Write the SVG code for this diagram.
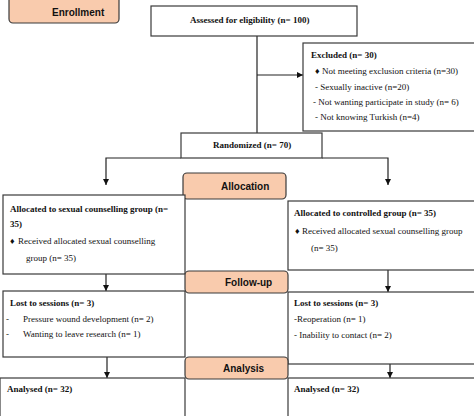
<svg xmlns="http://www.w3.org/2000/svg" width="474" height="416" viewBox="0 0 474 416">
<defs>
<style>
.box{fill:#fff;stroke:#3a3a3a;stroke-width:1.2}
.stage{fill:#F9CBAD;stroke:#3a3a3a;stroke-width:1.2}
.st{font-family:"Liberation Sans",Arial,sans-serif;font-weight:bold;font-size:10px;fill:#111}
.t{font-family:"Liberation Serif","Times New Roman",serif;font-size:9px;fill:#111}
.b{font-weight:bold}
.ln{fill:none;stroke:#222;stroke-width:1.2}
</style>
<marker id="ah" viewBox="0 0 6 6" refX="6" refY="3" markerWidth="6" markerHeight="6" markerUnits="userSpaceOnUse" orient="auto">
<path d="M0,0 L6,3 L0,6 z" fill="#111"/>
</marker>
</defs>
<rect width="474" height="416" fill="#fff"/>

<g id="connectors">
<path class="ln" d="M257,36 V133"/>
<path class="ln" d="M257,75 H303" marker-end="url(#ah)"/>
<path class="ln" d="M181,158 H106 V185" marker-end="url(#ah)"/>
<path class="ln" d="M322,158 H388 V185" marker-end="url(#ah)"/>
<path class="ln" d="M106,255 V291" marker-end="url(#ah)"/>
<path class="ln" d="M388,256 V292" marker-end="url(#ah)"/>
<path class="ln" d="M107,343 V378" marker-end="url(#ah)"/>
<path class="ln" d="M390,344 V378" marker-end="url(#ah)"/>
</g>

<g id="enrollment">
<rect class="stage" x="9" y="-4" width="110" height="27" rx="4"/>
<text class="st" x="52" y="15.5">Enrollment</text>
</g>

<g id="assessed">
<rect class="box" x="151" y="6" width="206" height="30"/>
<text class="t b" x="190" y="23">Assessed for eligibility (n= 100)</text>
</g>

<g id="excluded">
<rect class="box" x="303" y="43" width="180" height="88"/>
<text class="t b" x="311" y="58">Excluded (n= 30)</text>
<text class="t" x="315" y="74">♦</text>
<text class="t" x="322" y="74">Not meeting exclusion criteria (n=30)</text>
<text class="t" x="315" y="90">- Sexually inactive (n=20)</text>
<text class="t" x="313" y="105">- Not wanting participate in study (n= 6)</text>
<text class="t" x="315" y="120">- Not knowing Turkish (n=4)</text>
</g>

<g id="randomized">
<rect class="box" x="181" y="133" width="141" height="25"/>
<text class="t b" x="213" y="148">Randomized (n= 70)</text>
</g>

<g id="allocation">
<rect class="stage" x="183" y="173" width="103" height="26" rx="4"/>
<text class="st" x="221" y="190">Allocation</text>
</g>

<g id="alloc-left">
<rect class="box" x="3" y="195" width="182" height="79"/>
<text class="t b" x="10" y="212">Allocated to sexual counselling group (n=</text>
<text class="t b" x="10" y="227">35)</text>
<text class="t" x="10" y="244">♦</text>
<text class="t" x="18" y="244">Received allocated sexual counselling</text>
<text class="t" x="26" y="261">group (n= 35)</text>
</g>

<g id="alloc-right">
<rect class="box" x="288" y="201" width="195" height="69"/>
<text class="t b" x="294" y="216">Allocated to controlled group (n= 35)</text>
<text class="t" x="295" y="234">♦</text>
<text class="t" x="302" y="234">Received allocated sexual counselling group</text>
<text class="t" x="311" y="251">(n= 35)</text>
</g>

<g id="followup">
<rect class="stage" x="185" y="271" width="103" height="22" rx="4"/>
<text class="st" x="225" y="286">Follow-up</text>
</g>

<g id="lost-left">
<rect class="box" x="3" y="291" width="182" height="66"/>
<text class="t b" x="10" y="306">Lost to sessions (n= 3)</text>
<text class="t" x="6" y="322">-</text>
<text class="t" x="23" y="322">Pressure wound development (n= 2)</text>
<text class="t" x="6" y="337">-</text>
<text class="t" x="23" y="337">Wanting to leave research (n= 1)</text>
</g>

<g id="lost-right">
<rect class="box" x="288" y="292" width="195" height="72"/>
<text class="t b" x="294" y="306">Lost to sessions (n= 3)</text>
<text class="t" x="294" y="322">-Reoperation (n= 1)</text>
<text class="t" x="294" y="338">- Inability to contact (n= 2)</text>
</g>

<g id="analysis">
<rect class="stage" x="185" y="357" width="103" height="22" rx="4"/>
<text class="st" x="223" y="372">Analysis</text>
</g>

<g id="analysed-left">
<rect class="box" x="0" y="378" width="185" height="44"/>
<text class="t b" x="7" y="392">Analysed (n= 32)</text>
</g>

<g id="analysed-right">
<rect class="box" x="288" y="378" width="195" height="44"/>
<text class="t b" x="294" y="392">Analysed (n= 32)</text>
</g>
</svg>
